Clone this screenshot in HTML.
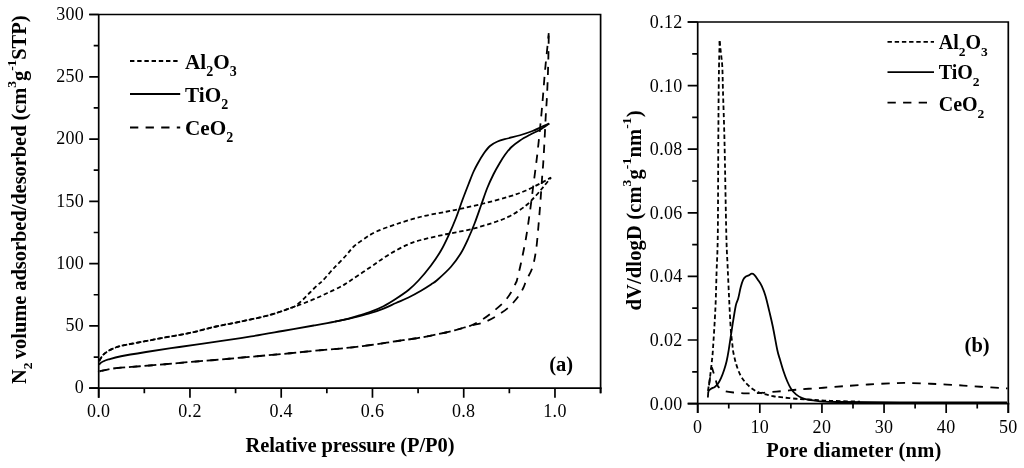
<!DOCTYPE html>
<html lang="en"><head><meta charset="utf-8"><title>N2 adsorption isotherms and pore size distribution</title>
<style>
html,body{margin:0;padding:0;background:#fff;}
svg{display:block;}
text{font-family:"Liberation Serif","Times New Roman",serif;fill:#000;}
.tk{font-size:18px;letter-spacing:0.35px;}
.b{font-weight:bold;}
.ax{stroke:#000;stroke-width:1.7;fill:none;stroke-linecap:butt;}
.cv{stroke:#000;stroke-width:1.8;fill:none;stroke-linejoin:round;}
.dot{stroke-dasharray:4.4 2.8;}
.dash{stroke-dasharray:8.3 7.3;}
</style></head><body>
<svg width="1024" height="468" viewBox="0 0 1024 468">
<rect x="0" y="0" width="1024" height="468" fill="#fff"/>
<g id="plotA">
<path class="ax" d="M89.20 14.50H600.60V393.20M98.70 13.65V397.80H98.70"/>
<path class="ax" d="M89.20 388.20H601.60"/>
<path class="ax" d="M89.20 388.20H98.70M93.70 357.06H98.70M89.20 325.92H98.70M93.70 294.77H98.70M89.20 263.63H98.70M93.70 232.49H98.70M89.20 201.35H98.70M93.70 170.21H98.70M89.20 139.07H98.70M93.70 107.93H98.70M89.20 76.78H98.70M93.70 45.64H98.70M89.20 14.50H98.70"/>
<path class="ax" d="M98.70 388.20V397.80M144.33 388.20V393.20M189.95 388.20V397.80M235.58 388.20V393.20M281.21 388.20V397.80M326.84 388.20V393.20M372.46 388.20V397.80M418.09 388.20V393.20M463.72 388.20V397.80M509.35 388.20V393.20M554.97 388.20V397.80M600.60 388.20V393.20"/>
<text class="tk" x="84.2" y="393.4" text-anchor="end">0</text>
<text class="tk" x="84.2" y="331.1" text-anchor="end">50</text>
<text class="tk" x="84.2" y="268.8" text-anchor="end">100</text>
<text class="tk" x="84.2" y="206.5" text-anchor="end">150</text>
<text class="tk" x="84.2" y="144.3" text-anchor="end">200</text>
<text class="tk" x="84.2" y="82.0" text-anchor="end">250</text>
<text class="tk" x="84.2" y="19.7" text-anchor="end">300</text>
<text class="tk" x="98.7" y="417.2" text-anchor="middle">0.0</text>
<text class="tk" x="190.0" y="417.2" text-anchor="middle">0.2</text>
<text class="tk" x="281.2" y="417.2" text-anchor="middle">0.4</text>
<text class="tk" x="372.5" y="417.2" text-anchor="middle">0.6</text>
<text class="tk" x="463.7" y="417.2" text-anchor="middle">0.8</text>
<text class="tk" x="555.0" y="417.2" text-anchor="middle">1.0</text>
<text class="b" x="245.5" y="452" font-size="20.5" textLength="209">Relative pressure (P/P0)</text>
<text class="b" transform="translate(25.6 384) rotate(-90)" font-size="20.5" textLength="368.5">N<tspan font-size="13.5" dy="6">2</tspan><tspan dy="-6" dx="-1.5"> volume adsorbed/desorbed (cm</tspan><tspan font-size="13.5" dy="-10">3</tspan><tspan dy="10">g</tspan><tspan font-size="13.5" dy="-10">-1</tspan><tspan dy="10">STP)</tspan></text>
<path class="cv" d="M99.30 365.00C99.38 364.79 99.05 364.37 99.75 363.75C100.45 363.13 102.04 362.03 103.50 361.30C104.96 360.57 105.58 360.24 108.50 359.40C111.42 358.56 114.75 357.48 121.00 356.25C127.25 355.02 137.67 353.34 146.00 352.00C154.33 350.66 162.67 349.43 171.00 348.20C179.33 346.97 187.83 345.77 196.00 344.60C204.17 343.43 210.79 342.57 220.00 341.20C229.21 339.83 240.83 338.10 251.25 336.40C261.67 334.70 272.08 332.82 282.50 331.00C292.92 329.18 305.00 327.07 313.75 325.50C322.50 323.93 329.38 322.70 335.00 321.60C340.62 320.50 343.58 319.88 347.50 318.90C351.42 317.92 354.58 316.92 358.50 315.70C362.42 314.48 366.83 313.18 371.00 311.60C375.17 310.03 379.33 308.39 383.50 306.25C387.67 304.11 391.83 301.46 396.00 298.75C400.17 296.04 404.75 293.04 408.50 290.00C412.25 286.96 414.75 284.58 418.50 280.50C422.25 276.42 427.25 270.50 431.00 265.50C434.75 260.50 438.08 255.50 441.00 250.50C443.92 245.50 446.00 240.92 448.50 235.50C451.00 230.08 453.71 223.83 456.00 218.00C458.29 212.17 460.17 206.12 462.25 200.50C464.33 194.88 466.62 189.04 468.50 184.25C470.38 179.46 471.92 175.29 473.50 171.75C475.08 168.21 476.29 166.04 478.00 163.00C479.71 159.96 481.75 156.33 483.75 153.50C485.75 150.67 487.71 148.00 490.00 146.00C492.29 144.00 494.58 142.75 497.50 141.50C500.42 140.25 503.75 139.54 507.50 138.50C511.25 137.46 515.83 136.50 520.00 135.25C524.17 134.00 528.75 132.46 532.50 131.00C536.25 129.54 539.71 127.75 542.50 126.50C545.29 125.25 548.12 124.00 549.25 123.50"/>
<path class="cv" d="M335.00 321.60C337.08 321.18 343.58 319.95 347.50 319.10C351.42 318.25 354.58 317.52 358.50 316.50C362.42 315.48 366.83 314.32 371.00 313.00C375.17 311.68 379.33 310.27 383.50 308.60C387.67 306.93 391.83 304.85 396.00 303.00C400.17 301.15 404.33 299.54 408.50 297.50C412.67 295.46 417.25 292.92 421.00 290.75C424.75 288.58 428.29 286.29 431.00 284.50C433.71 282.71 433.92 282.96 437.25 280.00C440.58 277.04 447.04 271.25 451.00 266.75C454.96 262.25 458.08 257.79 461.00 253.00C463.92 248.21 466.21 243.00 468.50 238.00C470.79 233.00 472.67 228.42 474.75 223.00C476.83 217.58 478.92 211.33 481.00 205.50C483.08 199.67 485.17 193.21 487.25 188.00C489.33 182.79 491.42 178.42 493.50 174.25C495.58 170.08 497.83 166.25 499.75 163.00C501.67 159.75 503.08 157.38 505.00 154.75C506.92 152.12 508.75 149.62 511.25 147.25C513.75 144.88 516.88 142.58 520.00 140.50C523.12 138.42 526.67 136.54 530.00 134.75C533.33 132.96 536.79 131.62 540.00 129.75C543.21 127.88 547.71 124.54 549.25 123.50"/>
<path class="cv dot" d="M99.30 361.50C99.38 361.25 99.05 361.15 99.75 360.00C100.45 358.85 102.04 356.13 103.50 354.60C104.96 353.07 106.58 351.93 108.50 350.80C110.42 349.67 112.92 348.63 115.00 347.80C117.08 346.97 116.83 346.73 121.00 345.80C125.17 344.87 132.67 343.60 140.00 342.20C147.33 340.80 156.67 338.95 165.00 337.40C173.33 335.85 181.67 334.67 190.00 332.90C198.33 331.12 206.67 328.61 215.00 326.75C223.33 324.89 231.67 323.50 240.00 321.75C248.33 320.00 258.33 317.92 265.00 316.25C271.67 314.58 275.83 313.08 280.00 311.75C284.17 310.42 286.25 309.58 290.00 308.25C293.75 306.92 298.33 305.33 302.50 303.75C306.67 302.17 310.83 300.54 315.00 298.75C319.17 296.96 323.33 294.96 327.50 293.00C331.67 291.04 336.92 288.58 340.00 287.00C343.08 285.42 343.75 284.92 346.00 283.50C348.25 282.08 349.33 281.29 353.50 278.50C357.67 275.71 366.00 270.17 371.00 266.75C376.00 263.33 379.33 260.71 383.50 258.00C387.67 255.29 391.83 252.79 396.00 250.50C400.17 248.21 404.33 246.00 408.50 244.25C412.67 242.50 414.75 241.67 421.00 240.00C427.25 238.33 437.67 236.04 446.00 234.25C454.33 232.46 462.67 231.33 471.00 229.25C479.33 227.17 489.33 224.04 496.00 221.75C502.67 219.46 506.00 218.21 511.00 215.50C516.00 212.79 521.83 208.83 526.00 205.50C530.17 202.17 533.08 198.62 536.00 195.50C538.92 192.38 541.00 189.75 543.50 186.75C546.00 183.75 549.75 179.04 551.00 177.50"/>
<path class="cv dot" style="stroke-dashoffset:-1.2" d="M99.30 361.50C99.38 361.25 99.05 361.15 99.75 360.00C100.45 358.85 102.04 356.13 103.50 354.60C104.96 353.07 106.58 351.93 108.50 350.80C110.42 349.67 112.92 348.63 115.00 347.80C117.08 346.97 116.83 346.73 121.00 345.80C125.17 344.87 132.67 343.60 140.00 342.20C147.33 340.80 156.67 338.95 165.00 337.40C173.33 335.85 181.67 334.67 190.00 332.90C198.33 331.12 206.67 328.61 215.00 326.75C223.33 324.89 231.67 323.50 240.00 321.75C248.33 320.00 258.33 317.92 265.00 316.25C271.67 314.58 275.83 313.08 280.00 311.75C284.17 310.42 287.50 309.17 290.00 308.25C292.50 307.33 292.92 307.62 295.00 306.25C297.08 304.88 300.00 302.29 302.50 300.00C305.00 297.71 307.50 295.00 310.00 292.50C312.50 290.00 315.42 286.96 317.50 285.00C319.58 283.04 319.75 283.58 322.50 280.75C325.25 277.92 330.08 272.21 334.00 268.00C337.92 263.79 342.75 259.04 346.00 255.50C349.25 251.96 350.58 249.46 353.50 246.75C356.42 244.04 359.75 241.75 363.50 239.25C367.25 236.75 370.58 234.25 376.00 231.75C381.42 229.25 388.50 226.75 396.00 224.25C403.50 221.75 412.67 218.83 421.00 216.75C429.33 214.67 439.75 213.00 446.00 211.75C452.25 210.50 452.25 210.62 458.50 209.25C464.75 207.88 475.17 205.58 483.50 203.50C491.83 201.42 501.42 198.92 508.50 196.75C515.58 194.58 520.58 192.79 526.00 190.50C531.42 188.21 536.83 185.17 541.00 183.00C545.17 180.83 549.33 178.42 551.00 177.50"/>
<path class="cv dash" d="M99.50 371.50C99.58 371.46 97.42 371.79 100.00 371.25C102.58 370.71 108.33 369.08 115.00 368.25C121.67 367.42 131.67 366.92 140.00 366.25C148.33 365.58 156.67 364.96 165.00 364.25C173.33 363.54 181.67 362.71 190.00 362.00C198.33 361.29 206.67 360.71 215.00 360.00C223.33 359.29 231.67 358.50 240.00 357.75C248.33 357.00 256.67 356.25 265.00 355.50C273.33 354.75 281.67 354.04 290.00 353.25C298.33 352.46 305.67 351.62 315.00 350.75C324.33 349.88 336.67 348.96 346.00 348.00C355.33 347.04 362.67 346.12 371.00 345.00C379.33 343.88 387.67 342.50 396.00 341.25C404.33 340.00 412.67 338.96 421.00 337.50C429.33 336.04 439.75 333.88 446.00 332.50C452.25 331.12 454.33 330.42 458.50 329.25C462.67 328.08 466.83 327.25 471.00 325.50C475.17 323.75 479.75 321.12 483.50 318.75C487.25 316.38 490.17 313.96 493.50 311.25C496.83 308.54 500.58 305.62 503.50 302.50C506.42 299.38 508.92 295.83 511.00 292.50C513.08 289.17 515.00 284.58 516.00 282.50C517.00 280.42 516.17 283.25 517.00 280.00C517.83 276.75 519.50 270.00 521.00 263.00C522.50 256.00 524.54 246.33 526.00 238.00C527.46 229.67 528.58 221.33 529.75 213.00C530.92 204.67 531.92 196.33 533.00 188.00C534.08 179.67 535.29 170.83 536.25 163.00C537.21 155.17 537.92 148.83 538.75 141.00C539.58 133.17 540.54 123.50 541.25 116.00C541.96 108.50 542.38 103.50 543.00 96.00C543.62 88.50 544.25 79.33 545.00 71.00C545.75 62.67 546.88 52.32 547.50 46.00C548.12 39.68 548.54 35.25 548.75 33.10"/>
<path class="cv dash" style="stroke-dashoffset:-3.6" d="M99.50 371.50C99.58 371.46 97.42 371.79 100.00 371.25C102.58 370.71 108.33 369.08 115.00 368.25C121.67 367.42 131.67 366.92 140.00 366.25C148.33 365.58 156.67 364.96 165.00 364.25C173.33 363.54 181.67 362.71 190.00 362.00C198.33 361.29 206.67 360.71 215.00 360.00C223.33 359.29 231.67 358.50 240.00 357.75C248.33 357.00 256.67 356.25 265.00 355.50C273.33 354.75 281.67 354.04 290.00 353.25C298.33 352.46 305.67 351.62 315.00 350.75C324.33 349.88 336.67 348.96 346.00 348.00C355.33 347.04 362.67 346.12 371.00 345.00C379.33 343.88 387.67 342.50 396.00 341.25C404.33 340.00 412.67 338.96 421.00 337.50C429.33 336.04 439.75 333.88 446.00 332.50C452.25 331.12 454.33 330.42 458.50 329.25C462.67 328.08 466.83 326.62 471.00 325.50C475.17 324.38 479.33 324.04 483.50 322.50C487.67 320.96 491.83 318.75 496.00 316.25C500.17 313.75 504.75 310.83 508.50 307.50C512.25 304.17 516.00 299.58 518.50 296.25C521.00 292.92 522.17 290.21 523.50 287.50C524.83 284.79 525.04 283.25 526.50 280.00C527.96 276.75 530.67 272.92 532.25 268.00C533.83 263.08 534.96 257.58 536.00 250.50C537.04 243.42 537.75 233.83 538.50 225.50C539.25 217.17 539.88 208.83 540.50 200.50C541.12 192.17 541.79 181.75 542.25 175.50C542.71 169.25 542.88 168.75 543.25 163.00C543.62 157.25 544.08 148.83 544.50 141.00C544.92 133.17 545.33 123.50 545.75 116.00C546.17 108.50 546.62 103.50 547.00 96.00C547.38 88.50 547.73 79.33 548.00 71.00C548.27 62.67 548.48 52.32 548.60 46.00C548.73 39.68 548.73 35.25 548.75 33.10"/>
<path class="cv dot" d="M130 61H180.2"/>
<path class="cv" d="M130 94H180.2"/>
<path class="cv dash" d="M130 127.5H180.2"/>
<text class="b" x="185.0" y="68.6" font-size="21.2">Al<tspan font-size="14" dy="7">2</tspan><tspan dy="-7">O</tspan><tspan font-size="14" dy="7">3</tspan></text>
<text class="b" x="185.0" y="101.6" font-size="21.2">TiO<tspan font-size="14" dy="7">2</tspan></text>
<text class="b" x="185.0" y="134.6" font-size="21.2">CeO<tspan font-size="14" dy="7">2</tspan></text>
<text class="b" x="549.3" y="371.3" font-size="20.5">(a)</text>
</g>
<g id="plotB">
<path class="ax" d="M687.70 22.00H1008.30V413.10M697.70 21.15V413.10"/>
<path class="ax" d="M687.70 403.60H1009.30" stroke-width="2.4"/>
<path class="ax" d="M687.70 403.60H697.70M692.20 371.80H697.70M687.70 340.00H697.70M692.20 308.20H697.70M687.70 276.40H697.70M692.20 244.60H697.70M687.70 212.80H697.70M692.20 181.00H697.70M687.70 149.20H697.70M692.20 117.40H697.70M687.70 85.60H697.70M692.20 53.80H697.70M687.70 22.00H697.70"/>
<path class="ax" d="M697.70 403.60V413.10M728.76 403.60V408.60M759.82 403.60V413.10M790.88 403.60V408.60M821.94 403.60V413.10M853.00 403.60V408.60M884.06 403.60V413.10M915.12 403.60V408.60M946.18 403.60V413.10M977.24 403.60V408.60M1008.30 403.60V413.10"/>
<text class="tk" x="682.7" y="409.6" text-anchor="end">0.00</text>
<text class="tk" x="682.7" y="346.0" text-anchor="end">0.02</text>
<text class="tk" x="682.7" y="282.4" text-anchor="end">0.04</text>
<text class="tk" x="682.7" y="218.8" text-anchor="end">0.06</text>
<text class="tk" x="682.7" y="155.2" text-anchor="end">0.08</text>
<text class="tk" x="682.7" y="91.6" text-anchor="end">0.10</text>
<text class="tk" x="682.7" y="28.0" text-anchor="end">0.12</text>
<text class="tk" x="697.7" y="433.0" text-anchor="middle">0</text>
<text class="tk" x="759.8" y="433.0" text-anchor="middle">10</text>
<text class="tk" x="821.9" y="433.0" text-anchor="middle">20</text>
<text class="tk" x="884.1" y="433.0" text-anchor="middle">30</text>
<text class="tk" x="946.2" y="433.0" text-anchor="middle">40</text>
<text class="tk" x="1008.3" y="433.0" text-anchor="middle">50</text>
<text class="b" x="766.3" y="456.5" font-size="20.5" textLength="175">Pore diameter (nm)</text>
<text class="b" transform="translate(641 310.5) rotate(-90)" font-size="20.5" textLength="200">dV/dlogD (cm<tspan font-size="13.5" dy="-10">3</tspan><tspan dy="10">g</tspan><tspan font-size="13.5" dy="-10">-1</tspan><tspan dy="10">nm</tspan><tspan font-size="13.5" dy="-10">-1</tspan><tspan dy="10">)</tspan></text>
<path class="cv" d="M707.90 397.50C708.00 396.46 707.98 392.71 708.50 391.25C709.02 389.79 709.96 389.48 711.00 388.75C712.04 388.02 713.60 387.73 714.75 386.90C715.90 386.07 716.86 385.22 717.90 383.75C718.94 382.28 719.97 380.39 721.00 378.10C722.03 375.81 723.17 372.81 724.10 370.00C725.03 367.19 725.83 364.57 726.60 361.25C727.37 357.93 727.80 355.59 728.70 350.10C729.60 344.61 730.83 335.65 732.00 328.30C733.17 320.95 734.67 310.97 735.70 306.00C736.73 301.03 737.37 301.62 738.20 298.50C739.03 295.38 739.88 290.40 740.70 287.30C741.52 284.20 742.28 281.67 743.10 279.90C743.92 278.13 744.68 277.45 745.60 276.70C746.52 275.95 747.57 275.90 748.60 275.40C749.63 274.90 750.85 273.78 751.80 273.70C752.75 273.62 753.27 273.87 754.30 274.90C755.33 275.93 756.75 278.03 758.00 279.90C759.25 281.77 760.55 283.42 761.80 286.10C763.05 288.78 764.27 291.87 765.50 296.00C766.73 300.13 767.97 305.73 769.20 310.90C770.43 316.07 771.55 320.48 772.90 327.00C774.25 333.52 776.16 344.71 777.30 350.00C778.44 355.29 778.72 355.21 779.75 358.75C780.78 362.29 782.25 367.50 783.50 371.25C784.75 375.00 786.00 378.33 787.25 381.25C788.50 384.17 789.54 386.56 791.00 388.75C792.46 390.94 794.12 392.84 796.00 394.40C797.88 395.96 800.17 397.21 802.25 398.10C804.33 398.99 806.42 399.33 808.50 399.75C810.58 400.17 812.25 400.31 814.75 400.60C817.25 400.89 818.79 401.27 823.50 401.50C828.21 401.73 830.25 401.87 843.00 402.00C855.75 402.13 872.67 402.22 900.00 402.30C927.33 402.38 989.17 402.47 1007.00 402.50"/>
<path class="cv dot" d="M719.60 41.20C719.47 47.60 719.02 62.85 718.80 79.60C718.58 96.35 718.47 115.97 718.30 141.70C718.13 167.43 718.08 212.42 717.80 234.00C717.52 255.58 717.00 258.80 716.60 271.20C716.20 283.60 716.02 295.27 715.40 308.40C714.78 321.53 713.47 341.40 712.90 350.00C712.33 358.60 712.36 356.46 712.00 360.00C711.64 363.54 711.17 367.71 710.75 371.25C710.33 374.79 709.94 378.12 709.50 381.25C709.06 384.38 708.38 388.21 708.10 390.00C707.82 391.79 707.85 391.67 707.80 392.00"/>
<path class="cv dot" d="M719.60 41.20C719.70 42.00 720.00 44.20 720.20 46.00C720.40 47.80 720.58 50.00 720.80 52.00C721.02 54.00 721.27 55.83 721.50 58.00C721.73 60.17 722.02 62.17 722.20 65.00C722.38 67.83 722.47 70.50 722.60 75.00C722.73 79.50 722.68 80.88 723.00 92.00C723.32 103.12 723.95 118.03 724.50 141.70C725.05 165.37 725.80 213.65 726.30 234.00C726.80 254.35 727.05 253.47 727.50 263.80C727.95 274.13 728.47 285.25 729.00 296.00C729.53 306.75 730.12 320.02 730.70 328.30C731.28 336.58 732.13 342.08 732.50 345.70C732.87 349.32 732.52 347.82 732.90 350.00C733.27 352.18 734.02 355.83 734.75 358.75C735.48 361.67 736.21 364.58 737.25 367.50C738.29 370.42 739.54 373.65 741.00 376.25C742.46 378.85 744.12 381.02 746.00 383.10C747.88 385.18 750.17 387.23 752.25 388.75C754.33 390.27 756.21 391.31 758.50 392.25C760.79 393.19 763.50 393.73 766.00 394.40C768.50 395.07 770.58 395.73 773.50 396.25C776.42 396.77 779.75 397.08 783.50 397.50C787.25 397.92 792.46 398.45 796.00 398.75C799.54 399.05 799.08 398.96 804.75 399.30C810.42 399.64 820.79 400.42 830.00 400.80C839.21 401.18 855.00 401.47 860.00 401.60"/>
<path class="cv dash" style="stroke-dashoffset:7.8" d="M707.80 393.00C707.85 392.71 707.77 393.42 708.10 391.25C708.43 389.08 709.18 383.88 709.75 380.00C710.32 376.12 710.88 369.25 711.50 368.00C712.12 366.75 712.85 370.71 713.50 372.50C714.15 374.29 714.77 376.67 715.40 378.75C716.02 380.83 716.52 383.44 717.25 385.00C717.98 386.56 718.50 387.10 719.75 388.10C721.00 389.10 722.46 390.27 724.75 391.00C727.04 391.73 729.96 392.10 733.50 392.50C737.04 392.90 741.83 393.30 746.00 393.40C750.17 393.50 754.33 393.32 758.50 393.10C762.67 392.88 766.83 392.45 771.00 392.10C775.17 391.75 779.33 391.39 783.50 391.00C787.67 390.61 791.83 390.12 796.00 389.75C800.17 389.38 803.92 389.08 808.50 388.75C813.08 388.42 817.75 388.17 823.50 387.75C829.25 387.33 835.58 386.79 843.00 386.25C850.42 385.71 859.67 385.00 868.00 384.50C876.33 384.00 886.33 383.50 893.00 383.25C899.67 383.00 901.75 382.92 908.00 383.00C914.25 383.08 922.58 383.42 930.50 383.75C938.42 384.08 947.17 384.50 955.50 385.00C963.83 385.50 971.83 386.18 980.50 386.75C989.17 387.32 1003.00 388.12 1007.50 388.40"/>
<path class="cv dot" d="M887.5 41.8H934"/>
<path class="cv" d="M887.5 72.2H934"/>
<path class="cv dash" d="M887.5 102.7H934"/>
<text class="b" x="938.7" y="48.6" font-size="20">Al<tspan font-size="13.5" dy="7">2</tspan><tspan dy="-7">O</tspan><tspan font-size="13.5" dy="7">3</tspan></text>
<text class="b" x="938.7" y="79.4" font-size="20">TiO<tspan font-size="13.5" dy="7">2</tspan></text>
<text class="b" x="938.7" y="110.5" font-size="20">CeO<tspan font-size="13.5" dy="7">2</tspan></text>
<text class="b" x="964.6" y="352.3" font-size="20.5">(b)</text>
</g>
</svg></body></html>
